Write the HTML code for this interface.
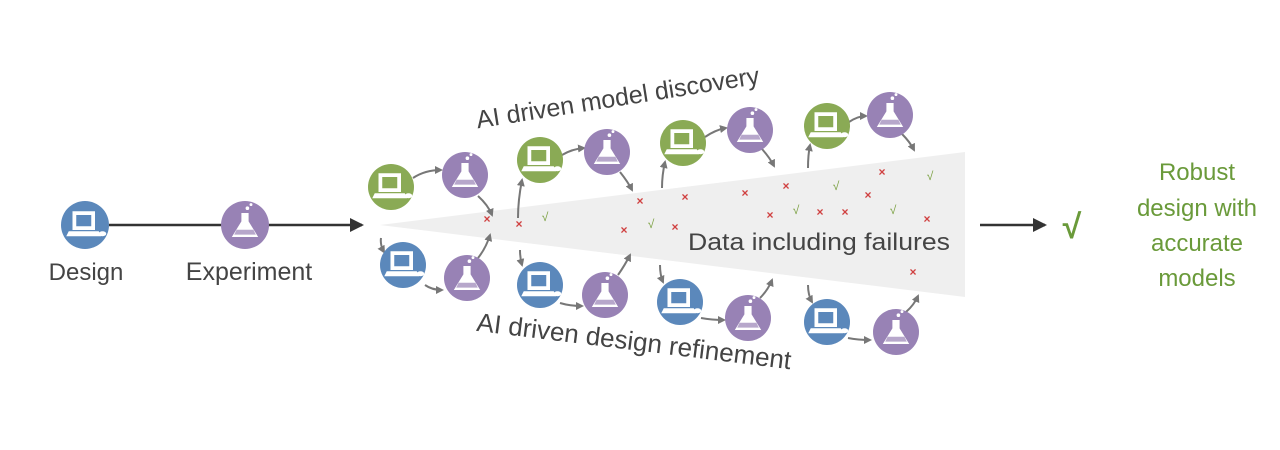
<!DOCTYPE html>
<html><head><meta charset="utf-8"><style>
html,body{margin:0;padding:0;background:#fff;width:1280px;height:450px;overflow:hidden}
svg text{font-family:"Liberation Sans",sans-serif}
</style></head><body>
<svg width="1280" height="450" viewBox="0 0 1280 450" xmlns="http://www.w3.org/2000/svg">
<defs>
<marker id="ah" markerWidth="8" markerHeight="8" refX="6" refY="4" orient="auto" markerUnits="userSpaceOnUse"><path d="M0,0 L8,4 L0,8 z" fill="#777"/></marker>
<marker id="big" markerWidth="14" markerHeight="14" refX="12" refY="7" orient="auto" markerUnits="userSpaceOnUse"><path d="M0,0 L14,7 L0,14 z" fill="#333"/></marker>
<g id="pc" transform="scale(1.25)"><rect x="-10" y="-11" width="18" height="15" fill="#fff"/><rect x="-7" y="-8" width="12" height="9" fill="currentColor"/><path d="M-13,5 L11,5 L13,9 L-15,9 z" fill="#fff"/><ellipse cx="14" cy="7" rx="3" ry="2" fill="#fff"/></g>
<g id="fl" transform="scale(1.2)"><path d="M-3,-10 L3,-10 L3,-3 L11,10 L-11,10 L-3,-3 z" fill="#fff"/><path d="M-7,4 L7,4 L9,8 L-9,8 z" fill="#9882b5" opacity="0.7"/><circle cx="2" cy="-14" r="1.5" fill="#fff"/><circle cx="5" cy="-17" r="1.2" fill="#fff"/></g>
</defs>
<polygon points="380,225 965,152 965,297" fill="#efefef"/>
<line x1="109" y1="225" x2="362" y2="225" stroke="#333" stroke-width="2.5" marker-end="url(#big)"/>
<circle cx="85" cy="225" r="24" fill="#5b88bb"/><use href="#pc" x="85" y="225" style="color:#5b88bb"/>
<circle cx="245" cy="225" r="24" fill="#9882b5"/><use href="#fl" x="245" y="225"/>
<text x="86" y="280" font-size="24" fill="#444" text-anchor="middle">Design</text>
<text x="249" y="280" font-size="25" fill="#444" text-anchor="middle">Experiment</text>
<g fill="none" stroke="#777" stroke-width="2" marker-end="url(#ah)">
<path d="M413,178 Q425,170 441,170"/><path d="M478,196 Q488,205 492,215"/>
<path d="M518,218 Q518,200 522,180"/><path d="M562,155 Q572,149 584,148"/><path d="M620,172 Q628,182 632,190"/>
<path d="M662,188 Q662,175 665,162"/><path d="M705,137 Q715,130 726,128"/><path d="M762,149 Q770,158 774,166"/>
<path d="M808,168 Q808,155 810,145"/><path d="M849,122 Q858,116 866,116"/><path d="M902,134 Q910,142 914,150"/>
<path d="M381,238 Q380,245 384,252"/><path d="M425,285 Q432,290 442,290"/><path d="M478,258 Q486,248 490,235"/>
<path d="M520,250 Q520,258 522,265"/><path d="M560,303 Q570,306 582,306"/><path d="M618,275 Q625,265 630,255"/>
<path d="M660,265 Q660,275 663,282"/><path d="M701,318 Q712,320 724,320"/><path d="M760,298 Q768,290 772,280"/>
<path d="M808,285 Q808,295 812,302"/><path d="M848,338 Q858,340 870,340"/><path d="M906,312 Q914,305 918,296"/>
</g>
<g>
<circle cx="391" cy="187" r="23" fill="#8aaa55"/><use href="#pc" x="391" y="187" style="color:#8aaa55"/>
<circle cx="465" cy="175" r="23" fill="#9882b5"/><use href="#fl" x="465" y="175"/>
<circle cx="540" cy="160" r="23" fill="#8aaa55"/><use href="#pc" x="540" y="160" style="color:#8aaa55"/>
<circle cx="607" cy="152" r="23" fill="#9882b5"/><use href="#fl" x="607" y="152"/>
<circle cx="683" cy="143" r="23" fill="#8aaa55"/><use href="#pc" x="683" y="143" style="color:#8aaa55"/>
<circle cx="750" cy="130" r="23" fill="#9882b5"/><use href="#fl" x="750" y="130"/>
<circle cx="827" cy="126" r="23" fill="#8aaa55"/><use href="#pc" x="827" y="126" style="color:#8aaa55"/>
<circle cx="890" cy="115" r="23" fill="#9882b5"/><use href="#fl" x="890" y="115"/>
<circle cx="403" cy="265" r="23" fill="#5b88bb"/><use href="#pc" x="403" y="265" style="color:#5b88bb"/>
<circle cx="467" cy="278" r="23" fill="#9882b5"/><use href="#fl" x="467" y="278"/>
<circle cx="540" cy="285" r="23" fill="#5b88bb"/><use href="#pc" x="540" y="285" style="color:#5b88bb"/>
<circle cx="605" cy="295" r="23" fill="#9882b5"/><use href="#fl" x="605" y="295"/>
<circle cx="680" cy="302" r="23" fill="#5b88bb"/><use href="#pc" x="680" y="302" style="color:#5b88bb"/>
<circle cx="748" cy="318" r="23" fill="#9882b5"/><use href="#fl" x="748" y="318"/>
<circle cx="827" cy="322" r="23" fill="#5b88bb"/><use href="#pc" x="827" y="322" style="color:#5b88bb"/>
<circle cx="896" cy="332" r="23" fill="#9882b5"/><use href="#fl" x="896" y="332"/>
</g>
<g font-size="12" fill="#d04040" text-anchor="middle" font-weight="bold">
<text x="487" y="223">×</text><text x="519" y="228">×</text><text x="640" y="205">×</text><text x="685" y="201">×</text>
<text x="624" y="234">×</text><text x="675" y="231">×</text><text x="745" y="197">×</text><text x="786" y="190">×</text>
<text x="770" y="219">×</text><text x="820" y="216">×</text><text x="845" y="216">×</text><text x="882" y="176">×</text>
<text x="868" y="199">×</text><text x="927" y="223">×</text><text x="913" y="276">×</text>
</g>
<g font-size="12" fill="#7aa040" text-anchor="middle">
<text x="545" y="221">√</text><text x="651" y="228">√</text><text x="836" y="190">√</text><text x="796" y="214">√</text><text x="893" y="214">√</text><text x="930" y="180">√</text>
</g>
<text x="819" y="250" font-size="24" fill="#444" text-anchor="middle" textLength="262" lengthAdjust="spacingAndGlyphs">Data including failures</text>
<text transform="translate(619,106) rotate(-9)" font-size="25" fill="#444" text-anchor="middle">AI driven model discovery</text>
<text transform="translate(633,350) rotate(7)" font-size="26" fill="#444" text-anchor="middle">AI driven design refinement</text>
<line x1="980" y1="225" x2="1045" y2="225" stroke="#333" stroke-width="2.5" marker-end="url(#big)"/>
<text x="1072" y="238" font-size="34" fill="#6a9a3a" text-anchor="middle" font-weight="bold">√</text>
<g font-size="24" fill="#6a9a3a" text-anchor="middle">
<text x="1197" y="180">Robust</text><text x="1197" y="216">design with</text><text x="1197" y="251">accurate</text><text x="1197" y="286">models</text>
</g>
</svg>
</body></html>
